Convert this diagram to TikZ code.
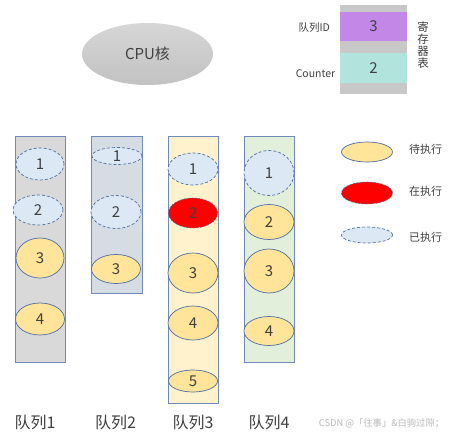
\documentclass[tikz,border=0pt]{standalone}
\usepackage{fontspec}
\setmainfont{Noto Sans CJK SC}
\usetikzlibrary{shapes.geometric}
\definecolor{txt}{HTML}{404040}
\definecolor{qborder}{HTML}{6F89BA}
\definecolor{eborder}{HTML}{4D6FA3}
\definecolor{waitc}{HTML}{FFE49A}
\definecolor{donec}{HTML}{DDE8F5}
\definecolor{q1c}{HTML}{D9D9D9}
\definecolor{q2c}{HTML}{D6DCE4}
\definecolor{q3c}{HTML}{FFF2CC}
\definecolor{q4c}{HTML}{E2EFDA}
\definecolor{regg}{HTML}{C8C8C8}
\definecolor{regp}{HTML}{C387E8}
\definecolor{regt}{HTML}{B0E4DC}
\tikzset{
  queuebox/.style={draw=qborder, line width=0.9pt},
  job/.style={ellipse, inner sep=0pt, text=txt, font=\fontsize{15}{15}\selectfont},
  waitjob/.style={job, draw=eborder, fill=waitc, line width=0.7pt},
  runjob/.style={job, draw=eborder, fill=red, line width=0.6pt, dash pattern=on 2pt off 1.5pt},
  donejob/.style={job, draw=eborder, fill=donec, line width=0.7pt, dash pattern=on 3pt off 2pt},
  qlabel/.style={text=txt, font=\fontsize{16}{16}\selectfont, inner sep=0pt},
  small/.style={text=txt, font=\fontsize{10.5}{10.5}\selectfont, inner sep=0pt},
}
\begin{document}
\begin{tikzpicture}[x=1pt,y=-1pt]
\useasboundingbox (0,0) rectangle (454,436);
\fill[white] (0,0) rectangle (454,436);
% CPU
\node[ellipse, minimum width=131pt, minimum height=62pt, top color=gray!32, bottom color=gray!48, draw=none, text=txt, font=\fontsize{15}{15}\selectfont] (cpu) at (147.5,54) {CPU核};
% register table
\fill[regg] (340,5) rectangle (407,94);
\fill[regp] (340,12) rectangle (407,41);
\fill[regt] (340,53) rectangle (407,83);
\node[text=txt, font=\fontsize{15}{15}\selectfont] (regid) at (373.5,26.5) {3};
\node[text=txt, font=\fontsize{15}{15}\selectfont] (regcnt) at (373.5,68) {2};
\node[small, anchor=east] (lid) at (330,28) {队列ID};
\node[small, anchor=east] (lcnt) at (335.5,74) {Counter};
\node[small, align=center, font=\fontsize{11.5}{11.8}\selectfont] (lreg) at (423,45) {寄\\存\\器\\表};
% queues
\draw[queuebox, fill=q1c] (15,136) rectangle (65,362);
\draw[queuebox, fill=q2c] (91,136) rectangle (142,293);
\draw[queuebox, fill=q3c] (168,136) rectangle (218,403);
\draw[queuebox, fill=q4c] (244,136) rectangle (294,362);
% queue 1
\node[donejob, minimum width=48pt, minimum height=32pt] (a1) at (40,164) {1};
\node[donejob, minimum width=50pt, minimum height=30pt] (a2) at (38,210) {2};
\node[waitjob, minimum width=48pt, minimum height=40pt] (a3) at (40,258) {3};
\node[waitjob, minimum width=49pt, minimum height=32pt] (a4) at (40,319) {4};
% queue 2
\node[donejob, minimum width=50pt, minimum height=17pt] (b1) at (117,156) {1};
\node[donejob, minimum width=50pt, minimum height=33pt] (b2) at (116,212) {2};
\node[waitjob, minimum width=49pt, minimum height=29pt] (b3) at (116,269) {3};
% queue 3
\node[donejob, minimum width=50pt, minimum height=32pt] (c1) at (193,169) {1};
\node[runjob, minimum width=49pt, minimum height=30pt] (c2) at (193,213) {2};
\node[waitjob, minimum width=50pt, minimum height=40pt] (c3) at (193,273) {3};
\node[waitjob, minimum width=50pt, minimum height=34pt] (c4) at (193,323) {4};
\node[waitjob, minimum width=49pt, minimum height=22pt] (c5) at (193,381) {5};
% queue 4
\node[donejob, minimum width=50pt, minimum height=45pt] (d1) at (269,173) {1};
\node[waitjob, minimum width=50pt, minimum height=35pt] (d2) at (269,222) {2};
\node[waitjob, minimum width=50pt, minimum height=44pt] (d3) at (269,271) {3};
\node[waitjob, minimum width=50pt, minimum height=29pt] (d4) at (269,331) {4};
% legend
\node[waitjob, minimum width=51pt, minimum height=20pt] (lg1) at (367,152) {};
\node[runjob, minimum width=51pt, minimum height=22pt] (lg2) at (367,193) {};
\node[donejob, minimum width=51pt, minimum height=16pt] (lg3) at (367,235) {};
\node[small, anchor=west, font=\fontsize{11}{11}\selectfont] (t1) at (409,149) {待执行};
\node[small, anchor=west, font=\fontsize{11}{11}\selectfont] (t2) at (409,191) {在执行};
\node[small, anchor=west, font=\fontsize{11}{11}\selectfont] (t3) at (409,237) {已执行};
% queue labels
\node[qlabel] (n1) at (35,422) {队列1};
\node[qlabel] (n2) at (115.5,422) {队列2};
\node[qlabel] (n3) at (193,422) {队列3};
\node[qlabel] (n4) at (269,422) {队列4};
\node[inner sep=0pt, text=gray!55, font=\fontsize{9.3}{9.3}\selectfont] (wm) at (381.5,423) {CSDN @「往事」\&白驹过隙；};
\end{tikzpicture}
\end{document}
